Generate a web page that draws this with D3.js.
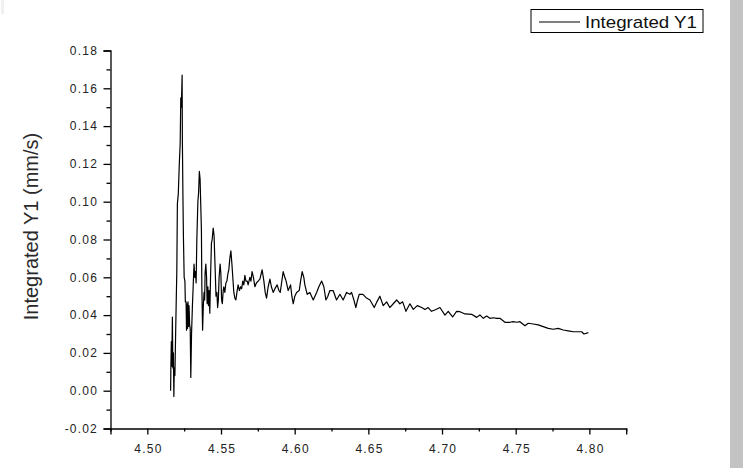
<!DOCTYPE html>
<html>
<head>
<meta charset="utf-8">
<script src="https://cdn.jsdelivr.net/npm/d3@7"></script>
<style>
  html, body { margin: 0; padding: 0; background: #ffffff; }
  svg { display: block; }
  text { font-family: "Liberation Sans", Arial, sans-serif; }
</style>
</head>
<body>
<svg id="chart" width="743" height="468"></svg>
<script>
// ---- data ----
const xValues = [
  4.5158,4.5160,4.5163,4.5166,4.5170,4.5173,4.5177,4.5180,4.5183,4.5187,
  4.5192,4.5196,4.5200,4.5204,4.5210,4.5217,4.5223,4.5227,4.5231,4.5236,
  4.5238,4.5242,4.5245,4.5250,4.5255,4.5258,4.5263,4.5266,4.5270,4.5273,
  4.5276,4.5280,4.5283,4.5287,4.5291,4.5295,4.5300,4.5306,4.5311,4.5317,
  4.5322,4.5327,4.5331,4.5336,4.5343,4.5348,4.5353,4.5358,4.5362,4.5367,
  4.5370,4.5375,4.5380,4.5385,4.5389,4.5392,4.5397,4.5402,4.5406,4.5411,
  4.5415,4.5420,4.5424,4.5429,4.5435,4.5440,4.5447,4.5453,4.5457,4.5462,
  4.5466,4.5472,4.5477,4.5482,4.5487,4.5494,4.5499,4.5504,4.5509,4.5515,
  4.5519,4.5526,4.5533,4.5540,4.5547,4.5553,4.5560,4.5567,4.5574,4.5580,
  4.5587,4.5594,4.5601,4.5608,4.5616,4.5625,4.5633,4.5640,4.5648,4.5655,
  4.5662,4.5669,4.5678,4.5684,4.5696,4.5703,4.5711,4.5720,4.5730,4.5740,
  4.5752,4.5764,4.5779,4.5791,4.5800,4.5809,4.5820,4.5832,4.5842,4.5854,
  4.5866,4.5881,4.5893,4.5902,4.5911,4.5922,4.5933,4.5942,4.5956,4.5972,
  4.5981,4.5990,4.6001,4.6013,4.6031,4.6040,4.6051,4.6062,4.6069,4.6085,
  4.6103,4.6126,4.6149,4.6164,4.6183,4.6198,4.6212,4.6225,4.6239,4.6261,
  4.6284,4.6307,4.6329,4.6352,4.6375,4.6386,4.6402,4.6415,4.6427,4.6438,
  4.6463,4.6488,4.6511,4.6540,4.6558,4.6578,4.6601,4.6624,4.6646,4.6669,
  4.6692,4.6714,4.6733,4.6755,4.6782,4.6805,4.6832,4.6862,4.6884,4.6906,
  4.6929,4.6959,4.6986,4.7020,4.7042,4.7072,4.7099,4.7122,4.7156,4.7201,
  4.7235,4.7257,4.7280,4.7303,4.7325,4.7348,4.7371,4.7393,4.7427,4.7461,
  4.7483,4.7507,4.7529,4.7563,4.7585,4.7619,4.7653,4.7687,4.7721,4.7755,
  4.7789,4.7823,4.7857,4.7891,4.7925,4.7948,4.7963,4.7993
];
const yValues = [
  0.000,0.014,0.026,0.013,0.039,0.012,0.020,-0.003,0.012,0.008,
  0.030,0.047,0.063,0.099,0.104,0.120,0.131,0.155,0.150,0.167,
  0.131,0.100,0.081,0.060,0.058,0.047,0.047,0.032,0.046,0.033,
  0.047,0.034,0.045,0.035,0.033,0.007,0.030,0.045,0.055,0.067,
  0.060,0.063,0.057,0.080,0.100,0.105,0.116,0.112,0.100,0.085,
  0.055,0.032,0.045,0.052,0.048,0.062,0.067,0.060,0.046,0.055,
  0.045,0.053,0.041,0.060,0.078,0.080,0.086,0.082,0.072,0.060,
  0.050,0.052,0.044,0.048,0.060,0.067,0.062,0.048,0.046,0.053,
  0.055,0.052,0.057,0.058,0.062,0.064,0.070,0.074,0.067,0.060,
  0.052,0.049,0.048,0.052,0.056,0.053,0.055,0.054,0.058,0.056,
  0.061,0.058,0.058,0.056,0.060,0.058,0.063,0.060,0.055,0.057,
  0.058,0.059,0.064,0.058,0.052,0.049,0.055,0.059,0.055,0.052,
  0.054,0.056,0.053,0.052,0.057,0.063,0.060,0.058,0.053,0.056,
  0.050,0.046,0.050,0.052,0.053,0.058,0.063,0.060,0.056,0.051,
  0.052,0.048,0.052,0.055,0.058,0.055,0.048,0.050,0.053,0.053,
  0.048,0.051,0.048,0.052,0.051,0.052,0.048,0.044,0.048,0.051,
  0.051,0.049,0.048,0.044,0.047,0.050,0.045,0.047,0.044,0.046,
  0.048,0.046,0.047,0.042,0.046,0.043,0.045,0.044,0.043,0.044,
  0.042,0.043,0.044,0.040,0.042,0.039,0.042,0.0418,0.0406,0.0404,
  0.0388,0.0401,0.0383,0.0395,0.0383,0.0386,0.0383,0.0383,0.0362,0.0362,
  0.0365,0.0362,0.0365,0.0344,0.0357,0.0353,0.0348,0.0339,0.0330,0.0325,
  0.0330,0.0321,0.0317,0.0312,0.0312,0.0312,0.0300,0.0307
];
const seriesName = "Integrated Y1";
const yAxisTitle = "Integrated Y1 (mm/s)";
const xDomain = [4.475, 4.825];
const yDomain = [-0.02, 0.18];
const xMajorTicks = [4.50, 4.55, 4.60, 4.65, 4.70, 4.75, 4.80];
const xMinorTicks = [4.475, 4.525, 4.575, 4.625, 4.675, 4.725, 4.775, 4.825];
const yMajorTicks = [-0.02, 0.00, 0.02, 0.04, 0.06, 0.08, 0.10, 0.12, 0.14, 0.16, 0.18];
const yMinorTicks = [-0.01, 0.01, 0.03, 0.05, 0.07, 0.09, 0.11, 0.13, 0.15, 0.17];

// ---- drawing ----
const svg = d3.select("#chart");
const mLeft = 110.5, mRight = 626.2, mTop = 50.5, mBottom = 428.5;

const x = d3.scaleLinear().domain(xDomain).range([mLeft, mRight]);
const y = d3.scaleLinear().domain(yDomain).range([mBottom, mTop]);
const fmt = d => d.toFixed(2);

// right gray strip and faint top-left mark
svg.append("rect").attr("x", 730).attr("y", 0).attr("width", 13).attr("height", 468).attr("fill", "#c3c3c3");
svg.append("rect").attr("x", 1).attr("y", 0).attr("width", 3).attr("height", 14).attr("fill", "#f0f0f0");

// X axis
const gx = svg.append("g").attr("transform", `translate(0,${mBottom})`);
gx.call(d3.axisBottom(x).tickValues(xMajorTicks).tickSize(6).tickPadding(10).tickFormat(fmt));
gx.append("g").call(d3.axisBottom(x).tickValues(xMinorTicks).tickSize(3).tickFormat(""))
  .call(g => g.select(".domain").remove());

// Y axis
const gy = svg.append("g").attr("transform", `translate(${mLeft},0)`);
gy.call(d3.axisLeft(y).tickValues(yMajorTicks).tickSize(7).tickPadding(5.5).tickFormat(fmt));
gy.append("g").call(d3.axisLeft(y).tickValues(yMinorTicks).tickSize(4).tickFormat(""))
  .call(g => g.select(".domain").remove());

svg.selectAll(".domain").attr("stroke", "#000").attr("stroke-width", 1.3);
svg.selectAll(".tick line").attr("stroke", "#000").attr("stroke-width", 1.3);
svg.selectAll(".tick text").attr("fill", "#222").style("font-size", "12px")
  .style("letter-spacing", "1.2px")
  .style("font-family", "'Liberation Sans', Arial, sans-serif");
gx.selectAll(".tick text").attr("dx", "0.6px");

// Y axis title
svg.append("text")
  .attr("transform", `translate(37.5,226.5) rotate(-90)`)
  .attr("text-anchor", "middle")
  .attr("fill", "#2a2a2a")
  .style("font-size", "20px")
  .text(yAxisTitle);

// line
const data = xValues.map((v, i) => ({ x: v, y: yValues[i] }));
svg.append("path")
  .datum(data)
  .attr("fill", "none")
  .attr("stroke", "#000")
  .attr("stroke-width", 1.2)
  .attr("stroke-linejoin", "round")
  .attr("d", d3.line().x(d => x(d.x)).y(d => y(d.y)));

// legend
const lg = svg.append("g");
lg.append("rect").attr("x", 531).attr("y", 9.5).attr("width", 172).attr("height", 23)
  .attr("fill", "#fff").attr("stroke", "#000").attr("stroke-width", 1);
lg.append("line").attr("x1", 539).attr("x2", 580).attr("y1", 22).attr("y2", 22)
  .attr("stroke", "#000").attr("stroke-width", 1.2);
lg.append("text").attr("x", 585).attr("y", 28).attr("fill", "#111")
  .style("font-size", "17px").attr("textLength", 112).attr("lengthAdjust", "spacingAndGlyphs")
  .text(seriesName);
</script>
</body>
</html>
